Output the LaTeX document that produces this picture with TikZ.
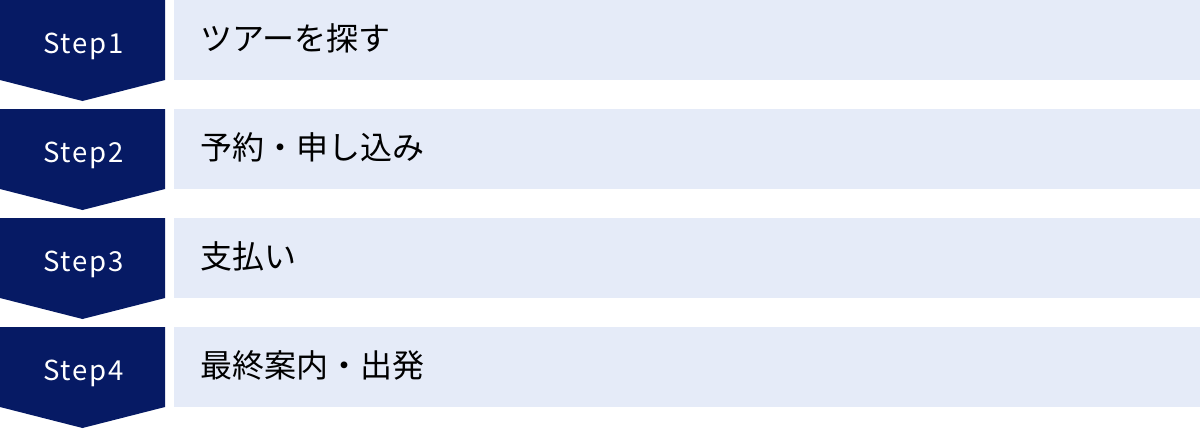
\documentclass[tikz,border=0pt]{standalone}
\usepackage{fontspec}
\newfontfamily\jpfont{Noto Sans CJK JP}
\newfontfamily\stepfont[LetterSpace=7]{Noto Sans CJK JP}
\definecolor{stepnavy}{HTML}{061A64}
\definecolor{boxblue}{HTML}{E5EBF8}
\tikzset{
	steplabel/.style={text=white, anchor=base, inner sep=0pt, font=\stepfont\fontsize{27.5}{27.5}\selectfont},
	tasklabel/.style={text=black, anchor=base west, inner sep=0pt, font=\jpfont\fontsize{32}{32}\selectfont}
}
\begin{document}
\begin{tikzpicture}[x=1pt, y=-1pt]
	
	\useasboundingbox (0, 0) rectangle (1200, 429);
	
	% step 1
	\fill [stepnavy] (0, 0) -- (165, 0) -- (165, 80) -- (82.5, 101) -- (0, 80) -- cycle;
	\fill [boxblue] (174, 0) rectangle (1200, 80);
	\node [steplabel] (s1) at (83.5, 53.5) {Step1};
	\node [tasklabel] (t1) at (200, 50) {ツアーを探す};
	
	% step 2
	\fill [stepnavy] (0, 109) -- (165, 109) -- (165, 189) -- (82.5, 210) -- (0, 189) -- cycle;
	\fill [boxblue] (174, 109) rectangle (1200, 189);
	\node [steplabel] (s2) at (83.5, 162.5) {Step2};
	\node [tasklabel] (t2) at (200, 159) {予約・申し込み};
	
	% step 3
	\fill [stepnavy] (0, 218) -- (165, 218) -- (165, 298) -- (82.5, 319) -- (0, 298) -- cycle;
	\fill [boxblue] (174, 218) rectangle (1200, 298);
	\node [steplabel] (s3) at (83.5, 271.5) {Step3};
	\node [tasklabel] (t3) at (200, 268) {支払い};
	
	% step 4
	\fill [stepnavy] (0, 327) -- (165, 327) -- (165, 407) -- (82.5, 428) -- (0, 407) -- cycle;
	\fill [boxblue] (174, 327) rectangle (1200, 407);
	\node [steplabel] (s4) at (83.5, 380.5) {Step4};
	\node [tasklabel] (t4) at (200, 377) {最終案内・出発};
	
\end{tikzpicture}
\end{document}
